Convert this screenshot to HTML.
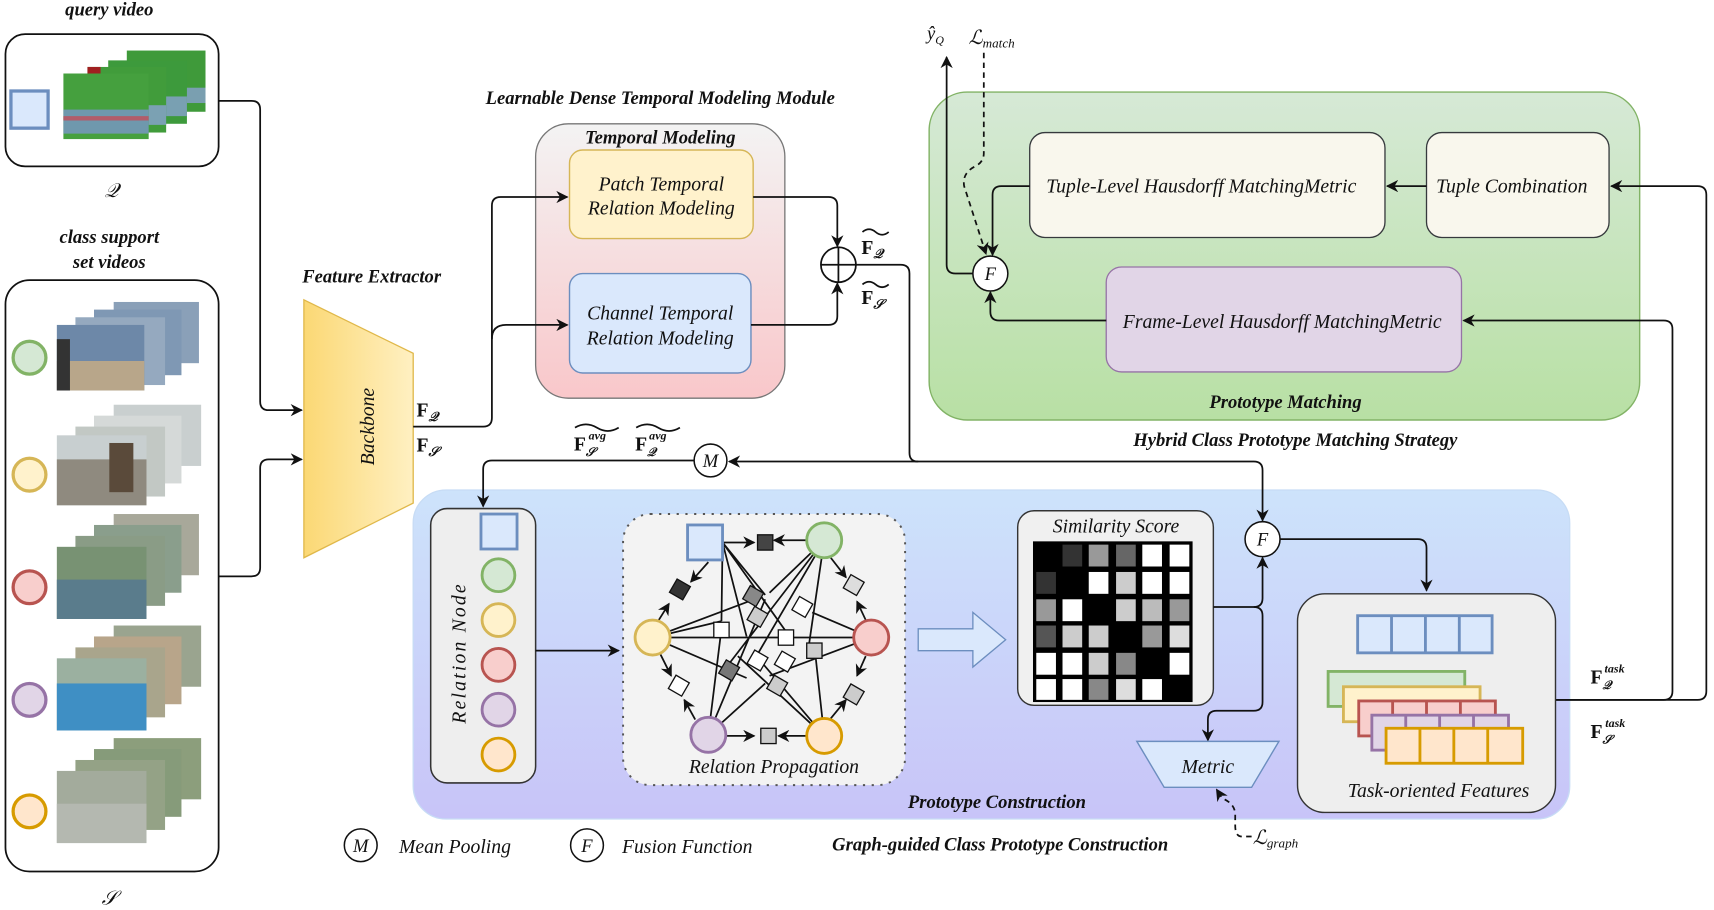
<!DOCTYPE html>
<html><head><meta charset="utf-8"><style>
html,body{margin:0;padding:0;background:#fff;width:1714px;height:910px;overflow:hidden}
svg{display:block}
text{font-family:"Liberation Serif",serif;font-style:italic;fill:#111}
.b{font-weight:bold}
.n{font-style:normal;font-weight:bold}
.ln{fill:none;stroke:#111;stroke-width:1.6}
</style></head><body>
<svg width="1714" height="910" viewBox="0 0 1568 832" xmlns="http://www.w3.org/2000/svg">
<defs>
<marker id="ar" viewBox="0 0 10 10" refX="9" refY="5" markerWidth="7" markerHeight="7" orient="auto-start-reverse"><path d="M0,0 L10,5 L0,10 L3,5z" fill="#111"/></marker>
<linearGradient id="gy" x1="0" x2="1"><stop offset="0" stop-color="#fbd874"/><stop offset="1" stop-color="#fff0c2"/></linearGradient>
<linearGradient id="gt" x1="0" y1="0" x2="0" y2="1"><stop offset="0" stop-color="#f3f3f3"/><stop offset="1" stop-color="#f9c7ca"/></linearGradient>
<linearGradient id="gg" x1="0" y1="0" x2="0" y2="1"><stop offset="0" stop-color="#d6e9d6"/><stop offset="1" stop-color="#b8e0a4"/></linearGradient>
<linearGradient id="gb" x1="0" y1="0" x2="0" y2="1"><stop offset="0" stop-color="#cde3fb"/><stop offset="1" stop-color="#c8c4f8"/></linearGradient>
</defs>

<rect x="490" y="113" width="228" height="251" rx="30" fill="url(#gt)" stroke="#777" stroke-width="1.2"/>
<rect x="850" y="84" width="650" height="300" rx="35" fill="url(#gg)" stroke="#82b366" stroke-width="1.3"/>
<rect x="378" y="448" width="1058" height="301" rx="30" fill="url(#gb)" stroke="#c7dcf5" stroke-width="1.2"/>

<!-- query -->
<text x="100" y="14" class="b" font-size="17" text-anchor="middle">query video</text>
<rect x="5" y="31" width="195" height="121" rx="18" fill="#fff" stroke="#111" stroke-width="1.6"/>
<rect x="10" y="83" width="34" height="34" fill="#dae8fc" stroke="#6c8ebf" stroke-width="3"/>
<g>
<rect x="116" y="46" width="72" height="56" fill="#3f9a3a"/><rect x="116" y="80" width="72" height="14" fill="#7a9fb0"/>
<rect x="99" y="55" width="72" height="58" fill="#3d9a3c"/><rect x="99" y="88" width="72" height="18" fill="#79a0b2"/>
<rect x="80" y="61" width="72" height="60" fill="#419c3b"/><rect x="80" y="96" width="72" height="18" fill="#7ba1b3"/><rect x="80" y="61" width="12" height="8" fill="#a02020"/>
<rect x="58" y="67" width="78" height="60" fill="#45a03e"/><rect x="58" y="100" width="78" height="22" fill="#6f98ad"/><rect x="58" y="106" width="78" height="4" fill="#b25c6a"/>
</g>
<text x="102" y="180" font-size="18" text-anchor="middle">𝒬</text>

<!-- support -->
<text x="100" y="222" class="b" font-size="17" text-anchor="middle">class support</text>
<text x="100" y="245" class="b" font-size="17" text-anchor="middle">set videos</text>
<rect x="5" y="256" width="195" height="541" rx="22" fill="#fff" stroke="#111" stroke-width="1.6"/>
<g stroke-width="3">
<circle cx="27" cy="327" r="15" fill="#d5e8d4" stroke="#82b366"/>
<circle cx="27" cy="434" r="15" fill="#fff2cc" stroke="#d6b656"/>
<circle cx="27" cy="537" r="15" fill="#f8cecc" stroke="#b85450"/>
<circle cx="27" cy="640" r="15" fill="#e1d5e7" stroke="#9673a6"/>
<circle cx="27" cy="742" r="15" fill="#ffe6cc" stroke="#d79b00"/>
</g>
<g>
<rect x="104" y="276" width="78" height="56" fill="#8aa0b8"/><rect x="86" y="283" width="80" height="60" fill="#7f98b4"/><rect x="69" y="290" width="82" height="62" fill="#95a9bf"/>
<rect x="52" y="297" width="80" height="60" fill="#6d88a8"/><rect x="52" y="330" width="80" height="27" fill="#b8a68a"/><rect x="52" y="310" width="12" height="47" fill="#333"/>
<rect x="104" y="370" width="80" height="56" fill="#c9cfcf"/><rect x="86" y="380" width="80" height="62" fill="#d5d9d8"/><rect x="69" y="390" width="82" height="64" fill="#c2c8c4"/>
<rect x="52" y="398" width="82" height="64" fill="#c8cfd0"/><rect x="52" y="420" width="82" height="42" fill="#8f8a7f"/><rect x="100" y="405" width="22" height="45" fill="#5a4a3a"/>
<rect x="104" y="470" width="78" height="56" fill="#a8a89a"/><rect x="86" y="480" width="80" height="62" fill="#8a9e8c"/><rect x="69" y="490" width="82" height="64" fill="#8a9c86"/>
<rect x="52" y="500" width="82" height="66" fill="#789273"/><rect x="52" y="530" width="82" height="36" fill="#5a7c8c"/>
<rect x="104" y="572" width="80" height="56" fill="#9aa48f"/><rect x="86" y="582" width="80" height="62" fill="#b8a58a"/><rect x="69" y="592" width="82" height="64" fill="#a9a58c"/>
<rect x="52" y="602" width="82" height="66" fill="#9bb0a0"/><rect x="52" y="625" width="82" height="43" fill="#3f8fc4"/>
<rect x="104" y="675" width="80" height="56" fill="#8c9e7c"/><rect x="86" y="685" width="80" height="62" fill="#869b7a"/><rect x="69" y="695" width="82" height="64" fill="#94a286"/>
<rect x="52" y="705" width="82" height="66" fill="#a3ab9c"/><rect x="52" y="735" width="82" height="36" fill="#b4b8b0"/>
</g>
<text x="100" y="827" font-size="18" text-anchor="middle">𝒮</text>

<path class="ln" d="M200,92 H230 Q238,92 238,100 V367 Q238,375 246,375 H276" marker-end="url(#ar)"/>
<path class="ln" d="M200,527 H230 Q238,527 238,519 V428 Q238,420 246,420 H276" marker-end="url(#ar)"/>

<!-- backbone -->
<text x="340" y="258" class="b" font-size="17" text-anchor="middle">Feature Extractor</text>
<path d="M278,274 L378,323 L378,460 L278,510 Z" fill="url(#gy)" stroke="#e0b84a" stroke-width="1.2"/>
<text x="336" y="390" font-size="18" text-anchor="middle" transform="rotate(-90 336 390)" dy="6">Backbone</text>
<text x="381" y="381" class="n" font-size="18">F<tspan font-size="12" style="font-style:italic" dy="4">𝒬</tspan></text>
<text x="381" y="413" class="n" font-size="18">F<tspan font-size="12" style="font-style:italic" dy="4">𝒮</tspan></text>
<path class="ln" d="M378,390 H442 Q450,390 450,382 V188 Q450,180 458,180 H519" marker-end="url(#ar)"/>
<path class="ln" d="M450,310 Q450,297 463,297 H519" marker-end="url(#ar)"/>

<!-- temporal -->
<text x="604" y="95" class="b" font-size="17" text-anchor="middle">Learnable Dense Temporal Modeling Module</text>
<text x="604" y="131" class="b" font-size="17" text-anchor="middle">Temporal Modeling</text>
<rect x="521" y="137" width="168" height="81" rx="12" fill="#fff2cc" stroke="#d6b656" stroke-width="1.3"/>
<text x="605" y="174" font-size="18" text-anchor="middle">Patch Temporal</text>
<text x="605" y="196" font-size="18" text-anchor="middle">Relation Modeling</text>
<rect x="521" y="250" width="166" height="91" rx="12" fill="#dae8fc" stroke="#6c8ebf" stroke-width="1.3"/>
<text x="604" y="292" font-size="18" text-anchor="middle">Channel Temporal</text>
<text x="604" y="315" font-size="18" text-anchor="middle">Relation Modeling</text>
<path class="ln" d="M689,180 H758 Q766,180 766,188 V225" marker-end="url(#ar)"/>
<path class="ln" d="M687,297 H758 Q766,297 766,289 V259" marker-end="url(#ar)"/>
<circle cx="767" cy="242" r="16" fill="#fff" stroke="#111" stroke-width="1.6"/>
<path class="ln" d="M751,242 H783 M767,226 V258"/>
<text x="788" y="232" class="n" font-size="18">F<tspan font-size="12" style="font-style:italic" dy="4">𝒬</tspan></text>
<path d="M789,212 q6,-5 12,0 t12,0" class="ln" stroke-width="1.2"/>
<text x="788" y="278" class="n" font-size="18">F<tspan font-size="12" style="font-style:italic" dy="4">𝒮</tspan></text>
<path d="M789,260 q6,-5 12,0 t12,0" class="ln" stroke-width="1.2"/>
<path class="ln" d="M783,242 H824 Q832,242 832,250 V414 Q832,422 840,422 H1147 Q1155,422 1155,430 V476" marker-end="url(#ar)"/>
<path class="ln" d="M840,422 H667" marker-end="url(#ar)"/>
<circle cx="650" cy="421" r="15" fill="#fff" stroke="#111" stroke-width="1.4"/>
<text x="650" y="427" font-size="17" text-anchor="middle">M</text>
<path class="ln" d="M635,421 H450 Q442,421 442,429 V463" marker-end="url(#ar)"/>
<text x="525" y="412" class="n" font-size="18">F<tspan font-size="11" style="font-style:italic" dy="5">𝒮</tspan><tspan font-size="11" style="font-style:italic" dy="-15" dx="-6">avg</tspan></text>
<path d="M526,391 q10,-6 20,0 t20,0" class="ln" stroke-width="1.2"/>
<text x="581" y="412" class="n" font-size="18">F<tspan font-size="11" style="font-style:italic" dy="5">𝒬</tspan><tspan font-size="11" style="font-style:italic" dy="-15" dx="-6">avg</tspan></text>
<path d="M582,391 q10,-6 20,0 t20,0" class="ln" stroke-width="1.2"/>

<!-- green -->
<text x="1176" y="373" class="b" font-size="17" text-anchor="middle">Prototype Matching</text>
<text x="1185" y="408" class="b" font-size="17" text-anchor="middle">Hybrid Class Prototype Matching Strategy</text>
<rect x="942" y="121" width="325" height="96" rx="14" fill="#f9f7ed" stroke="#36393d" stroke-width="1.2"/>
<text x="1099" y="176" font-size="18" text-anchor="middle">Tuple-Level Hausdorff MatchingMetric</text>
<rect x="1305" y="121" width="167" height="96" rx="14" fill="#f9f7ed" stroke="#36393d" stroke-width="1.2"/>
<text x="1383" y="176" font-size="18" text-anchor="middle">Tuple Combination</text>
<rect x="1012" y="244" width="325" height="96" rx="14" fill="#e1d5e7" stroke="#9673a6" stroke-width="1.2"/>
<text x="1173" y="300" font-size="18" text-anchor="middle">Frame-Level Hausdorff MatchingMetric</text>
<path class="ln" d="M1305,170 H1269" marker-end="url(#ar)"/>
<path class="ln" d="M942,170 H916 Q908,170 908,178 V233" marker-end="url(#ar)"/>
<path class="ln" d="M1012,293 H914 Q906,293 906,285 V267" marker-end="url(#ar)"/>
<circle cx="906" cy="250" r="16" fill="#fff" stroke="#111" stroke-width="1.4"/>
<text x="906" y="256" font-size="17" text-anchor="middle">F</text>
<path class="ln" d="M890,250 H874 Q866,250 866,242 V52" marker-end="url(#ar)"/>
<path class="ln" d="M900,48 V140 Q900,148 892,152 Q880,158 882,170 L902,232" stroke-dasharray="5,4" marker-end="url(#ar)"/>
<text x="848" y="36" font-size="17">ŷ<tspan font-size="11" dy="4">Q</tspan></text>
<text x="886" y="40" font-size="18">ℒ<tspan font-size="12" dy="3">match</tspan></text>
<path class="ln" d="M1423,640 H1553 Q1561,640 1561,632 V178 Q1561,170 1553,170 H1474" marker-end="url(#ar)"/>
<path class="ln" d="M1423,640 H1522 Q1530,640 1530,632 V301 Q1530,293 1522,293 H1339" marker-end="url(#ar)"/>
<text x="1455" y="625" class="n" font-size="18">F<tspan font-size="11" style="font-style:italic" dy="5">𝒬</tspan><tspan font-size="11" style="font-style:italic" dy="-15" dx="-6">task</tspan></text>
<text x="1455" y="675" class="n" font-size="18">F<tspan font-size="11" style="font-style:italic" dy="5">𝒮</tspan><tspan font-size="11" style="font-style:italic" dy="-15" dx="-6">task</tspan></text>

<!-- blue -->
<text x="912" y="739" class="b" font-size="17" text-anchor="middle">Prototype Construction</text>
<text x="915" y="778" class="b" font-size="17" text-anchor="middle">Graph-guided Class Prototype Construction</text>
<rect x="394" y="465" width="96" height="251" rx="15" fill="#eeeeee" stroke="#333" stroke-width="1.4"/>
<text x="420" y="597" font-size="18" text-anchor="middle" letter-spacing="2" transform="rotate(-90 420 597)" dy="6">Relation Node</text>
<g stroke-width="2.6">
<rect x="440" y="470" width="33" height="32" fill="#dae8fc" stroke="#6c8ebf"/>
<circle cx="456" cy="526" r="15" fill="#d5e8d4" stroke="#82b366"/>
<circle cx="456" cy="567" r="15" fill="#fff2cc" stroke="#d6b656"/>
<circle cx="456" cy="608" r="15" fill="#f8cecc" stroke="#b85450"/>
<circle cx="456" cy="649" r="15" fill="#e1d5e7" stroke="#9673a6"/>
<circle cx="456" cy="690" r="15" fill="#ffe6cc" stroke="#d79b00"/>
</g>
<path class="ln" d="M490,595 H566" marker-end="url(#ar)"/>

<!-- relation propagation -->
<rect x="570" y="470" width="258" height="248" rx="25" fill="#f3f3f3" stroke="#555" stroke-width="1.8" stroke-dasharray="2,6"/>
<g class="ln" stroke-width="1.2">
<path d="M661,496 L723,583 M661,496 L683,582 M661,496 L700,544 M661,496 L660,568 M754,494 L704,542 M754,494 L692,600 M754,494 L740,590 M754,494 L660,616 M597,583 L797,583 M597,583 L660,568 M597,583 L683,620 M597,583 L690,548 M797,583 L743,560 M797,583 L704,618 M648,672 L660,575 M648,672 L700,548 M648,672 L700,625 M754,673 L675,600 M754,673 L745,590 M754,673 L692,600"/>
</g>
<g class="ln">
<path d="M661,496 H690" marker-end="url(#ar)"/><path d="M738,494 H708" marker-end="url(#ar)"/>
<path d="M648,514 L632,532" marker-end="url(#ar)"/><path d="M602,568 L612,552" marker-end="url(#ar)"/>
<path d="M604,598 L614,618" marker-end="url(#ar)"/><path d="M636,658 L626,640" marker-end="url(#ar)"/>
<path d="M664,673 H690" marker-end="url(#ar)"/><path d="M738,673 H712" marker-end="url(#ar)"/>
<path d="M760,510 L774,528" marker-end="url(#ar)"/><path d="M792,567 L784,550" marker-end="url(#ar)"/>
<path d="M792,600 L784,618" marker-end="url(#ar)"/><path d="M760,657 L774,640" marker-end="url(#ar)"/>
</g>
<g stroke="#111" stroke-width="1.2">
<rect x="693" y="489" width="14" height="14" fill="#444"/>
<rect x="615" y="532" width="14" height="14" fill="#333" transform="rotate(30 622 539)"/>
<rect x="682" y="538" width="14" height="14" fill="#888" transform="rotate(30 689 545)"/>
<rect x="686" y="557" width="14" height="14" fill="#ccc" transform="rotate(30 693 564)"/>
<rect x="727" y="548" width="14" height="14" fill="#fff" transform="rotate(30 734 555)"/>
<rect x="774" y="528" width="14" height="14" fill="#ddd" transform="rotate(30 781 535)"/>
<rect x="653" y="569" width="14" height="14" fill="#fff"/>
<rect x="712" y="576" width="14" height="14" fill="#fff"/>
<rect x="738" y="588" width="14" height="14" fill="#ccc"/>
<rect x="711" y="598" width="14" height="14" fill="#fff" transform="rotate(30 718 605)"/>
<rect x="660" y="606" width="14" height="14" fill="#777" transform="rotate(30 667 613)"/>
<rect x="686" y="597" width="14" height="14" fill="#fff" transform="rotate(30 693 604)"/>
<rect x="704" y="620" width="14" height="14" fill="#ccc" transform="rotate(30 711 627)"/>
<rect x="614" y="620" width="14" height="14" fill="#fff" transform="rotate(30 621 627)"/>
<rect x="774" y="628" width="14" height="14" fill="#ccc" transform="rotate(30 781 635)"/>
<rect x="696" y="666" width="14" height="14" fill="#ccc"/>
</g>
<g stroke-width="2.6">
<rect x="629" y="480" width="32" height="32" fill="#dae8fc" stroke="#6c8ebf"/>
<circle cx="754" cy="494" r="16" fill="#d5e8d4" stroke="#82b366"/>
<circle cx="597" cy="583" r="16" fill="#fff2cc" stroke="#d6b656"/>
<circle cx="797" cy="583" r="16" fill="#f8cecc" stroke="#b85450"/>
<circle cx="648" cy="672" r="16" fill="#e1d5e7" stroke="#9673a6"/>
<circle cx="754" cy="673" r="16" fill="#ffe6cc" stroke="#d79b00"/>
</g>
<text x="708" y="707" font-size="18" text-anchor="middle">Relation Propagation</text>

<path d="M840,575 H890 V560 L920,585 L890,610 V595 H840 Z" fill="#dae8fc" stroke="#6c8ebf" stroke-width="1.2"/>

<!-- similarity -->
<rect x="931" y="467" width="179" height="178" rx="15" fill="#f0f0f0" stroke="#333" stroke-width="1.3"/>
<text x="1021" y="487" font-size="18" text-anchor="middle">Similarity Score</text>
<rect x="945" y="495" width="146" height="147" fill="#000"/>
<g stroke="none">
<rect x="972" y="498" width="18" height="20" fill="#333"/><rect x="996" y="498" width="18" height="20" fill="#999"/><rect x="1021" y="498" width="18" height="20" fill="#666"/><rect x="1045" y="498" width="18" height="20" fill="#fff"/><rect x="1070" y="498" width="18" height="20" fill="#fff"/>
<rect x="948" y="523" width="18" height="20" fill="#333"/><rect x="996" y="523" width="18" height="20" fill="#fff"/><rect x="1021" y="523" width="18" height="20" fill="#ccc"/><rect x="1045" y="523" width="18" height="20" fill="#fff"/><rect x="1070" y="523" width="18" height="20" fill="#fff"/>
<rect x="948" y="548" width="18" height="20" fill="#999"/><rect x="972" y="548" width="18" height="20" fill="#fff"/><rect x="1021" y="548" width="18" height="20" fill="#ccc"/><rect x="1045" y="548" width="18" height="20" fill="#bbb"/><rect x="1070" y="548" width="18" height="20" fill="#999"/>
<rect x="948" y="572" width="18" height="20" fill="#555"/><rect x="972" y="572" width="18" height="20" fill="#ccc"/><rect x="996" y="572" width="18" height="20" fill="#ccc"/><rect x="1045" y="572" width="18" height="20" fill="#999"/><rect x="1070" y="572" width="18" height="20" fill="#ddd"/>
<rect x="948" y="597" width="18" height="20" fill="#fff"/><rect x="972" y="597" width="18" height="20" fill="#fff"/><rect x="996" y="597" width="18" height="20" fill="#ccc"/><rect x="1021" y="597" width="18" height="20" fill="#888"/><rect x="1070" y="597" width="18" height="20" fill="#fff"/>
<rect x="948" y="621" width="18" height="19" fill="#fff"/><rect x="972" y="621" width="18" height="19" fill="#fff"/><rect x="996" y="621" width="18" height="19" fill="#888"/><rect x="1021" y="621" width="18" height="19" fill="#ddd"/><rect x="1045" y="621" width="18" height="19" fill="#fff"/>
</g>
<path class="ln" d="M1110,555 H1147 Q1155,555 1155,547 V510" marker-end="url(#ar)"/>
<path class="ln" d="M1147,555 Q1155,555 1155,563 V642 Q1155,650 1147,650 H1113 Q1105,650 1105,658 V677" marker-end="url(#ar)"/>
<circle cx="1155" cy="493" r="16" fill="#fff" stroke="#111" stroke-width="1.4"/>
<text x="1155" y="499" font-size="17" text-anchor="middle">F</text>
<path class="ln" d="M1171,493 H1297 Q1305,493 1305,501 V540" marker-end="url(#ar)"/>

<path d="M1040,678 H1170 L1145,720 H1065 Z" fill="#dae8fc" stroke="#6c8ebf" stroke-width="1.3"/>
<text x="1105" y="707" font-size="18" text-anchor="middle">Metric</text>
<path class="ln" d="M1145,765 H1136 Q1130,765 1130,755 V745 Q1130,735 1118,730 L1113,722" stroke-dasharray="5,4" marker-end="url(#ar)"/>
<text x="1146" y="772" font-size="18">ℒ<tspan font-size="12" dy="3">graph</tspan></text>

<!-- task -->
<rect x="1187" y="543" width="236" height="200" rx="25" fill="#eeeeee" stroke="#333" stroke-width="1.3"/>
<g stroke-width="2.6" fill="#dae8fc" stroke="#6c8ebf">
<rect x="1242" y="563" width="123" height="34"/><path d="M1273,563 V597 M1304,563 V597 M1335,563 V597"/>
</g>
<g stroke-width="2.6">
<rect x="1215" y="614" width="125" height="32" fill="#d5e8d4" stroke="#82b366"/>
<rect x="1229" y="628" width="125" height="32" fill="#fff2cc" stroke="#d6b656"/>
<rect x="1243" y="641" width="125" height="32" fill="#f8cecc" stroke="#b85450"/>
<path d="M1274,641 V673 M1305,641 V673 M1336,641 V673" stroke="#b85450"/>
<rect x="1255" y="654" width="125" height="32" fill="#e1d5e7" stroke="#9673a6"/>
<path d="M1286,654 V686 M1317,654 V686 M1348,654 V686" stroke="#9673a6"/>
<rect x="1268" y="666" width="125" height="32" fill="#ffe6cc" stroke="#d79b00"/>
<path d="M1299,666 V698 M1330,666 V698 M1361,666 V698" stroke="#d79b00"/>
</g>
<text x="1316" y="729" font-size="18" text-anchor="middle">Task-oriented Features</text>

<circle cx="330" cy="773" r="15" fill="#fff" stroke="#111" stroke-width="1.4"/>
<text x="330" y="779" font-size="17" text-anchor="middle">M</text>
<text x="365" y="780" font-size="18">Mean Pooling</text>
<circle cx="537" cy="773" r="15" fill="#fff" stroke="#111" stroke-width="1.4"/>
<text x="537" y="779" font-size="17" text-anchor="middle">F</text>
<text x="569" y="780" font-size="18">Fusion Function</text>
</svg>
</body></html>
